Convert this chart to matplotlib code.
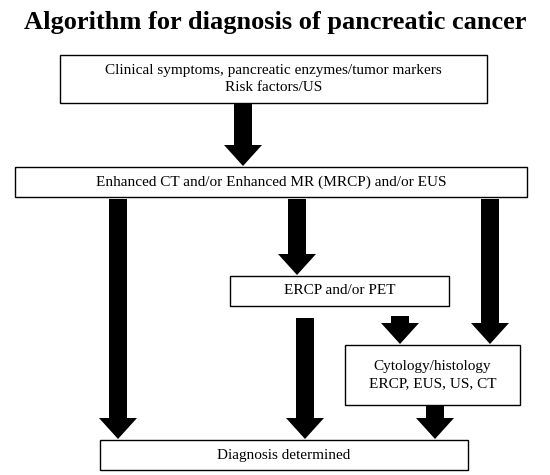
import matplotlib.pyplot as plt
from matplotlib.patches import Rectangle

title = "Algorithm for diagnosis of pancreatic cancer"

# box labels
box_labels = [
    "Clinical symptoms, pancreatic enzymes/tumor markers\nRisk factors/US",
    "Enhanced CT and/or Enhanced MR (MRCP) and/or EUS",
    "ERCP and/or PET",
    "Cytology/histology\nERCP, EUS, US, CT",
    "Diagnosis determined",
]
# box extents in pixel space: x0, y0, x1, y1
box_pos = [
    (60, 55, 487, 103),
    (15, 167, 527, 197),
    (230, 276, 449, 306),
    (345, 345, 520, 405),
    (100, 440, 468, 470),
]
# arrows: x, y_start, y_end
arrow_pos = [
    (243, 104, 166),
    (118, 199, 439),
    (297, 199, 275),
    (490, 199, 344),
    (305, 318, 439),
    (400, 316, 344),
    (435, 405, 439),
]

plt.rcParams['font.family'] = ['Liberation Serif', 'DejaVu Serif']

fig = plt.figure(figsize=(5.5, 4.75), dpi=100)
ax = fig.add_axes([0, 0, 1, 1])
ax.set_xlim(0, 550)
ax.set_ylim(475, 0)
ax.axis('off')

ax.text(275, 22, title, ha='center', va='center', fontsize=19, fontweight='bold')

for (x0, y0, x1, y1), lab in zip(box_pos, box_labels):
    ax.add_patch(Rectangle((x0, y0), x1 - x0, y1 - y0, fill=False, ec='black', lw=1))
    ax.text((x0 + x1) / 2, (y0 + y1) / 2, lab, ha='center', va='center',
            fontsize=11, linespacing=1.45)

for x, ys, ye in arrow_pos:
    ax.arrow(x, ys, 0, ye - ys, width=18, head_width=38, head_length=21,
             length_includes_head=True, color='black', lw=0)

fig.savefig('out.png', dpi=100)
